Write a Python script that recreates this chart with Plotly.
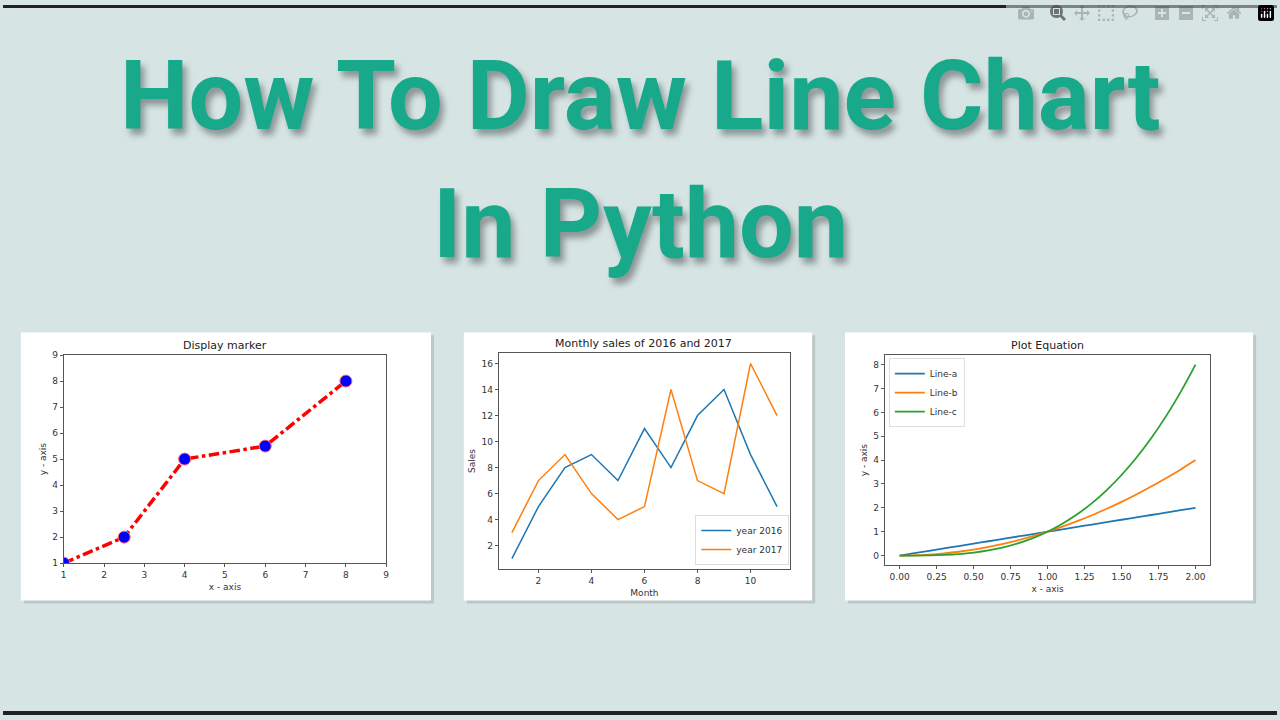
import plotly.graph_objects as go

# %% data
MARKER_X = [1, 2.5, 4, 6, 8]
MARKER_Y = [1, 2, 5, 5.5, 8]

MONTHS = [1, 2, 3, 4, 5, 6, 7, 8, 9, 10, 11]
SALES_2016 = [1, 5, 8, 9, 7, 11, 8, 12, 14, 9, 5]
SALES_2017 = [3, 7, 9, 6, 4, 5, 14, 7, 6, 16, 12]

EQ_X = [0.0, 0.1, 0.2, 0.3, 0.4, 0.5, 0.6, 0.7, 0.8, 0.9, 1.0,
        1.1, 1.2, 1.3, 1.4, 1.5, 1.6, 1.7, 1.8, 1.9, 2.0]
LINE_A = [0.0, 0.1, 0.2, 0.3, 0.4, 0.5, 0.6, 0.7, 0.8, 0.9, 1.0,
          1.1, 1.2, 1.3, 1.4, 1.5, 1.6, 1.7, 1.8, 1.9, 2.0]
LINE_B = [0.0, 0.01, 0.04, 0.09, 0.16, 0.25, 0.36, 0.49, 0.64, 0.81, 1.0,
          1.21, 1.44, 1.69, 1.96, 2.25, 2.56, 2.89, 3.24, 3.61, 4.0]
LINE_C = [0.0, 0.001, 0.008, 0.027, 0.064, 0.125, 0.216, 0.343, 0.512, 0.729, 1.0,
          1.331, 1.728, 2.197, 2.744, 3.375, 4.096, 4.913, 5.832, 6.859, 8.0]

W, H = 1280, 720
BG = "#d6e4e4"
TEAL = "#17a98a"
BLUE = "#1f77b4"
ORANGE = "#ff7f0e"
GREEN = "#2ca02c"


def px(x0, x1):
    return [x0 / W, x1 / W]


def py(y0, y1):
    # pixel rows (top, bottom) -> paper domain
    return [1 - y1 / H, 1 - y0 / H]


fig = go.Figure()

# white panels behind each chart
for x0, x1 in [(18, 430), (463, 813), (846, 1256)]:
    fig.add_shape(type="rect", xref="paper", yref="paper",
                  x0=(x0 + 3) / W, x1=(x1 + 3) / W, y0=1 - 607 / H, y1=1 - 335 / H,
                  fillcolor="rgba(0,0,0,0.12)", line=dict(width=0), layer="below")
    fig.add_shape(type="rect", xref="paper", yref="paper",
                  x0=x0 / W, x1=x1 / W, y0=1 - 604 / H, y1=1 - 332 / H,
                  fillcolor="white", line=dict(width=0), layer="below")

# dark strips at top and bottom edges
fig.add_shape(type="rect", xref="paper", yref="paper", x0=0, x1=1, y0=1 - 3 / H, y1=1,
              fillcolor="#222", line=dict(width=0))
fig.add_shape(type="rect", xref="paper", yref="paper", x0=0, x1=1, y0=0, y1=4 / H,
              fillcolor="#222", line=dict(width=0))

# chart 1
fig.add_trace(go.Scatter(
    x=MARKER_X, y=MARKER_Y, mode="lines+markers", xaxis="x", yaxis="y",
    line=dict(color="red", width=3.5, dash="dashdot"),
    marker=dict(color="blue", size=12, line=dict(color="#ff6666", width=1)),
    showlegend=False))

# chart 2
fig.add_trace(go.Scatter(x=MONTHS, y=SALES_2016, mode="lines", name="year 2016",
                         xaxis="x2", yaxis="y2", line=dict(color=BLUE, width=1.5),
                         legend="legend"))
fig.add_trace(go.Scatter(x=MONTHS, y=SALES_2017, mode="lines", name="year 2017",
                         xaxis="x2", yaxis="y2", line=dict(color=ORANGE, width=1.5),
                         legend="legend"))

# chart 3
for name, ys, col in [("Line-a", LINE_A, BLUE), ("Line-b", LINE_B, ORANGE), ("Line-c", LINE_C, GREEN)]:
    fig.add_trace(go.Scatter(x=EQ_X, y=ys, mode="lines", name=name, xaxis="x3", yaxis="y3",
                             line=dict(color=col, width=1.8, shape="spline"), legend="legend2"))

axis_style = dict(showgrid=False, zeroline=False, showline=True, linecolor="#555", linewidth=1,
                  mirror=True, ticks="outside", ticklen=3, tickcolor="#555",
                  tickfont=dict(size=9, color="#333"))

fig.update_layout(
    width=W, height=H,
    margin=dict(l=0, r=0, t=0, b=0),
    paper_bgcolor=BG, plot_bgcolor="white",
    font=dict(family="DejaVu Sans", color="#333"),
    xaxis=dict(domain=px(61, 385), anchor="y", range=[1, 9], dtick=1,
               title=dict(text="x - axis", font=dict(size=9), standoff=4), **axis_style),
    yaxis=dict(domain=py(355, 566), anchor="x", range=[1, 9], dtick=1,
               title=dict(text="y - axis", font=dict(size=9), standoff=4), **axis_style),
    xaxis2=dict(domain=px(498, 791), anchor="y2", range=[0.5, 11.5], tickvals=[2, 4, 6, 8, 10],
                title=dict(text="Month", font=dict(size=9), standoff=4), **axis_style),
    yaxis2=dict(domain=py(353, 572), anchor="x2", range=[0.2, 16.8], tickvals=[2, 4, 6, 8, 10, 12, 14, 16],
                title=dict(text="Sales", font=dict(size=9), standoff=4), **axis_style),
    xaxis3=dict(domain=px(886, 1213), anchor="y3", range=[-0.1, 2.1], dtick=0.25, tickformat=".2f",
                title=dict(text="x - axis", font=dict(size=9), standoff=4), **axis_style),
    yaxis3=dict(domain=py(355, 568), anchor="x3", range=[-0.4, 8.4], dtick=1,
                title=dict(text="y - axis", font=dict(size=9), standoff=4), **axis_style),
    legend=dict(x=790 / W, y=1 - 568 / H, xanchor="right", yanchor="bottom",
                bgcolor="white", bordercolor="#ddd", borderwidth=1, font=dict(size=9)),
    legend2=dict(x=890 / W, y=1 - 358 / H, xanchor="left", yanchor="top",
                 bgcolor="white", bordercolor="#ddd", borderwidth=1, font=dict(size=9)),
)

# subplot titles
for text, xc, yc in [("Display marker", 223, 345), ("Monthly sales of 2016 and 2017", 644, 343),
                     ("Plot Equation", 1049, 345)]:
    fig.add_annotation(text=text, xref="paper", yref="paper", x=xc / W, y=1 - yc / H,
                       xanchor="center", yanchor="middle",
                       showarrow=False, font=dict(size=11, color="#222"))

# big headline
for text, yc in [("How To Draw Line Chart", 92), ("In Python", 222)]:
    fig.add_annotation(text="<b>" + text + "</b>", xref="paper", yref="paper",
                       x=641 / W, y=1 - yc / H, xanchor="center", yanchor="middle",
                       showarrow=False,
                       font=dict(family="Roboto", size=97, color=TEAL,
                                 shadow="4px 6px 6px rgba(0,0,0,0.35)"))

fig.write_html("out.html", post_script="document.body.style.margin='0';")
